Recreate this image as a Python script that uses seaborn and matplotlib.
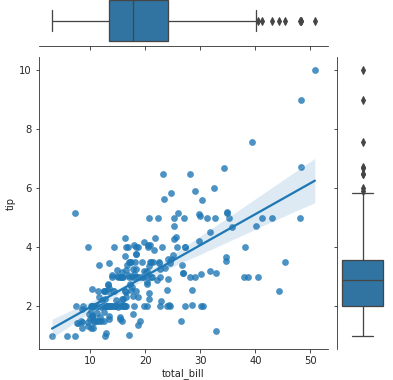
import numpy as np
import pandas as pd
import matplotlib
matplotlib.use("Agg")
import matplotlib.pyplot as plt
import seaborn as sns

# tips data: total_bill / tip pairs
total_bill = [
    16.99, 10.34, 21.01, 23.68, 24.59, 25.29, 8.77, 26.88, 15.04, 14.78,
    10.27, 35.26, 15.42, 18.43, 14.83, 21.58, 10.33, 16.29, 16.97, 20.65,
    17.92, 20.29, 15.77, 39.42, 19.82, 17.81, 13.37, 12.69, 21.70, 19.65,
    9.55, 18.35, 15.06, 20.69, 17.78, 24.06, 16.31, 16.93, 18.69, 31.27,
    16.04, 17.46, 13.94, 9.68, 30.40, 18.29, 22.23, 32.40, 28.55, 18.04,
    12.54, 10.29, 34.81, 9.94, 25.56, 19.49, 38.01, 26.41, 11.24, 48.27,
    20.29, 13.81, 11.02, 18.29, 17.59, 20.08, 16.45, 3.07, 20.23, 15.01,
    12.02, 17.07, 26.86, 25.28, 14.73, 10.51, 17.92, 27.20, 22.76, 17.29,
    19.44, 16.66, 10.07, 32.68, 15.98, 34.83, 13.03, 18.28, 24.71, 21.16,
    28.97, 22.49, 5.75, 16.32, 22.75, 40.17, 27.28, 12.03, 21.01, 12.46,
    11.35, 15.38, 44.30, 22.42, 20.92, 15.36, 20.49, 25.21, 18.24, 14.31,
    14.00, 7.25, 38.07, 23.95, 25.71, 17.31, 29.93, 10.65, 12.43, 24.08,
    11.69, 13.42, 14.26, 15.95, 12.48, 29.80, 8.52, 14.52, 11.38, 22.82,
    19.08, 20.27, 11.17, 12.26, 18.26, 8.51, 10.33, 14.15, 16.00, 13.16,
    17.47, 34.30, 41.19, 27.05, 16.43, 8.35, 18.64, 11.87, 9.78, 7.51,
    14.07, 13.13, 17.26, 24.55, 19.77, 29.85, 48.17, 25.00, 13.39, 16.49,
    21.50, 12.66, 16.21, 13.81, 17.51, 24.52, 20.76, 31.71, 10.59, 10.63,
    50.81, 15.81, 7.25, 31.85, 16.82, 32.90, 17.89, 14.48, 9.60, 34.63,
    34.65, 23.33, 45.35, 23.17, 40.55, 20.69, 20.90, 30.46, 18.15, 23.10,
    15.69, 19.81, 28.44, 15.48, 16.58, 7.56, 10.34, 43.11, 13.00, 13.51,
    18.71, 12.74, 13.00, 16.40, 20.53, 16.47, 26.59, 38.73, 24.27, 12.76,
    30.06, 25.89, 48.33, 13.27, 28.17, 12.90, 28.15, 11.59, 7.74, 30.14,
    12.16, 13.42, 8.58, 15.98, 13.42, 16.27, 10.09, 20.45, 13.28, 22.12,
    24.01, 15.69, 11.61, 10.77, 15.53, 10.07, 12.60, 32.83, 35.83, 29.03,
    27.18, 22.67, 17.82, 18.78,
]
tip = [
    1.01, 1.66, 3.50, 3.31, 3.61, 4.71, 2.00, 3.12, 1.96, 3.23,
    1.71, 5.00, 1.57, 3.00, 3.02, 3.92, 1.67, 3.71, 3.50, 3.35,
    4.08, 2.75, 2.23, 7.58, 3.18, 2.34, 2.00, 2.00, 4.30, 3.00,
    1.45, 2.50, 3.00, 2.45, 3.27, 3.60, 2.00, 3.07, 2.31, 5.00,
    2.24, 2.54, 3.06, 1.32, 5.60, 3.00, 5.00, 6.00, 2.05, 3.00,
    2.50, 2.60, 5.20, 1.56, 4.34, 3.51, 3.00, 1.50, 1.76, 6.73,
    3.21, 2.00, 1.98, 3.76, 2.64, 3.15, 2.47, 1.00, 2.01, 2.09,
    1.97, 3.00, 3.14, 5.00, 2.20, 1.25, 3.08, 4.00, 3.00, 2.71,
    3.00, 3.40, 1.83, 5.00, 2.03, 5.17, 2.00, 4.00, 5.85, 3.00,
    3.00, 3.50, 1.00, 4.30, 3.25, 4.73, 4.00, 1.50, 3.00, 1.50,
    2.50, 3.00, 2.50, 3.48, 4.08, 1.64, 4.06, 4.29, 3.76, 4.00,
    3.00, 1.00, 4.00, 2.55, 4.00, 3.50, 5.07, 1.50, 1.80, 2.92,
    2.31, 1.68, 2.50, 2.00, 2.52, 4.20, 1.48, 2.00, 2.00, 2.18,
    1.50, 2.83, 1.50, 2.00, 3.25, 1.25, 2.00, 2.00, 2.00, 2.75,
    3.50, 6.70, 5.00, 5.00, 2.30, 1.50, 1.36, 1.63, 1.73, 2.00,
    2.50, 2.00, 2.74, 2.00, 2.00, 5.14, 5.00, 3.75, 2.61, 2.00,
    3.50, 2.50, 2.00, 2.00, 3.00, 3.48, 2.24, 4.50, 1.61, 2.00,
    10.00, 3.16, 5.15, 3.18, 4.00, 3.11, 2.00, 2.00, 4.00, 3.55,
    3.68, 5.65, 3.50, 6.50, 3.00, 5.00, 3.50, 2.00, 3.50, 4.00,
    1.50, 4.19, 2.56, 2.02, 4.00, 1.44, 2.00, 5.00, 2.00, 2.00,
    4.00, 2.01, 2.00, 2.50, 4.00, 3.23, 3.41, 3.00, 2.03, 2.23,
    2.00, 5.16, 9.00, 2.50, 6.50, 1.10, 3.00, 1.50, 1.44, 3.09,
    2.20, 3.48, 1.92, 3.00, 1.58, 2.50, 2.00, 3.00, 2.72, 2.88,
    2.00, 3.00, 3.39, 1.47, 3.00, 1.25, 1.00, 1.17, 4.67, 5.92,
    2.00, 2.00, 1.75, 3.00,
]

tips = pd.DataFrame({"total_bill": total_bill, "tip": tip})

sns.set_style("ticks")
plt.rcParams["font.family"] = ["DejaVu Sans"]
plt.rcParams["font.size"] = 10
plt.rcParams["xtick.major.size"] = 3.5
plt.rcParams["ytick.major.size"] = 3.5

W, H = 393, 380
fig = plt.figure(figsize=(W / 72, H / 72), dpi=72)

ax_joint = fig.add_axes([39 / W, 31 / H, 289 / W, 292 / H])
ax_top = fig.add_axes([39 / W, (H - 46) / H, 289 / W, 51 / H], sharex=ax_joint)
ax_right = fig.add_axes([337 / W, 31 / H, 51 / W, 292 / H], sharey=ax_joint)

# joint: scatter + regression
sns.regplot(data=tips, x="total_bill", y="tip", ax=ax_joint, color="C0",
            scatter_kws={"s": 46, "alpha": 0.8, "linewidths": 0})
ax_joint.set_xticks([10, 20, 30, 40, 50])
ax_joint.set_yticks([2, 4, 6, 8, 10])

box_kws = dict(color="C0", saturation=0.75, linecolor=".27", linewidth=1.3,
               flierprops=dict(marker="d", markerfacecolor=".27",
                               markeredgecolor=".27", markersize=5))

# marginals
sns.boxplot(x=tips["total_bill"], ax=ax_top, orient="h", **box_kws)
sns.boxplot(y=tips["tip"], ax=ax_right, orient="v", **box_kws)

ax_top.set_ylim(0.5, -0.5)
ax_right.set_xlim(-0.5, 0.5)

ax_top.set_xlabel("")
ax_top.set_ylabel("")
ax_top.tick_params(labelbottom=False, left=False, labelleft=False)
ax_top.set_yticks([])
ax_right.set_xlabel("")
ax_right.set_ylabel("")
ax_right.tick_params(labelleft=False, bottom=False, labelbottom=False)
ax_right.set_xticks([])

sns.despine(ax=ax_joint)
sns.despine(ax=ax_top, left=True)
sns.despine(ax=ax_right, bottom=True)

ax_joint.set_xlim(0.7, 53.2)
ax_joint.set_ylim(0.55, 10.45)
ax_joint.set_xlabel("total_bill", labelpad=2)
ax_joint.set_ylabel("tip")

fig.savefig("out.png", dpi=72)
